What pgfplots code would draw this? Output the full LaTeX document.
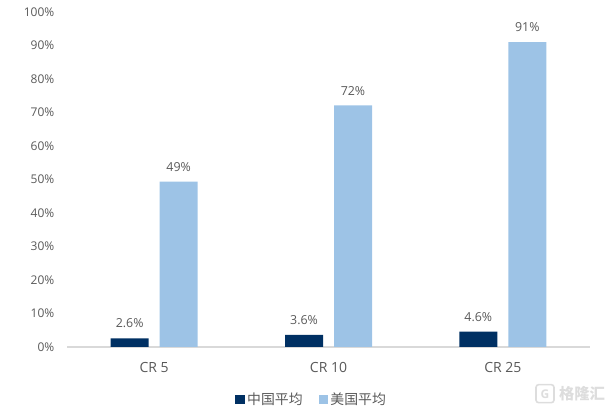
\documentclass[border=0pt]{standalone}
\usepackage{pgfplots}
\pgfplotsset{compat=1.18}
\usepackage{fontspec}
\setmainfont{Open Sans}
\newfontfamily\cjk{Noto Sans CJK SC}
\definecolor{cnnavy}{HTML}{003063}
\definecolor{uslight}{HTML}{9DC3E6}
\definecolor{txtgray}{HTML}{595959}
\definecolor{axgray}{HTML}{D9D9D9}
\definecolor{wmgray}{HTML}{DDDDDD}

\begin{document}
\begin{tikzpicture}
\useasboundingbox (0pt,0pt) rectangle (458.25pt,310.5pt);
\begin{axis}[
    at={(50.25pt,50.25pt)}, anchor=south west,
    scale only axis,
    width=392.25pt, height=251.25pt,
    ybar=8.25pt,
    bar width=28.5pt,
    xmin=-0.5, xmax=2.5,
    ymin=0, ymax=100,
    xtick=data,
    xticklabels={CR 5, CR 10, CR 25},
    ytick={0,10,...,100},
    yticklabel={\pgfmathprintnumber{\tick}\%},
    /pgf/number format/assume math mode=true,
    axis x line*=bottom,
    axis y line*=left,
    y axis line style={draw=none},
    x axis line style={draw=axgray, line width=0.8pt},
    major tick length=0pt,
    tick label style={text=txtgray},
    yticklabel style={font=\fontsize{9}{10}\selectfont, xshift=-6pt},
    xticklabel style={font=\fontsize{10.5}{12}\selectfont, yshift=-8pt},
    nodes near coords style={font=\fontsize{9.3}{10}\selectfont, text=txtgray,
        anchor=south, inner sep=0pt, yshift=7.5pt},
    legend style={at={(0.4685,-0.158)}, anchor=center, draw=none,
        legend columns=2, font=\cjk\fontsize{10.4}{12}\selectfont, text=txtgray,
        /tikz/every even column/.append style={column sep=10pt}},
    legend image code/.code={\fill[#1] (0pt,-3.4pt) rectangle (6.8pt,3.4pt);},
]
\addplot[fill=cnnavy, draw=none,
    nodes near coords={\pgfmathprintnumber[fixed,precision=1,fixed zerofill]{\pgfplotspointmeta}\%}]
    coordinates {(0,2.6) (1,3.6) (2,4.6)};
\addplot[fill=uslight, draw=none,
    nodes near coords={\pgfmathprintnumber[fixed,precision=0]{\pgfplotspointmeta}\%}]
    coordinates {(0,49.4) (1,72.1) (2,91.0)};
\legend{中国平均, 美国平均}
\end{axis}
% watermark
\draw[wmgray, line width=1.2pt, rounded corners=2pt] (402pt,8.5pt) rectangle (415.5pt,22pt);
\node[text=wmgray, font=\bfseries\fontsize{9}{10}\selectfont] at (408.75pt,15.2pt) {G};
\node[text=wmgray, font=\cjk\bfseries\fontsize{11.5}{12}\selectfont] at (436.5pt,15pt) {格隆汇};
\end{tikzpicture}
\end{document}
